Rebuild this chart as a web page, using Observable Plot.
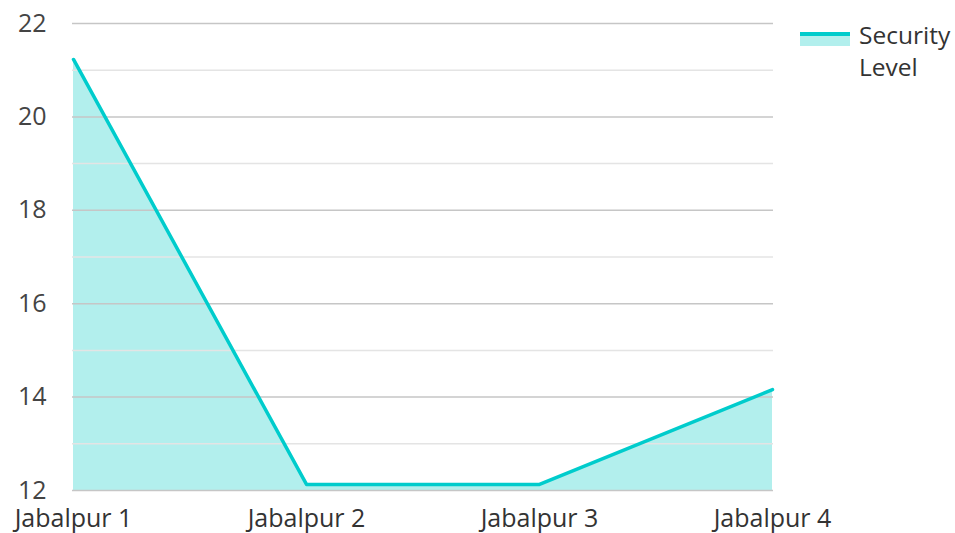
<!DOCTYPE html>
<html>
<head>
<meta charset="utf-8">
<script src="https://cdn.jsdelivr.net/npm/d3@7"></script>
<script src="https://cdn.jsdelivr.net/npm/@observablehq/plot@0.6"></script>
<style>
  html, body { margin: 0; padding: 0; background: #fff; }
  #wrap { position: relative; width: 955px; height: 533px; font-family: "Open Sans", sans-serif; }
  #chart svg { overflow: visible; }
  #legend { position: absolute; left: 800px; top: 19px; display: flex; align-items: flex-start; font-size: 24.5px; color: #333; line-height: 32px; }
  #legend .sw { width: 50px; height: 14px; margin-top: 13px; margin-right: 9px; background: #b2efed; border-top: 4px solid #00cccc; box-sizing: border-box; }
</style>
</head>
<body>
<div id="wrap">
  <div id="chart"></div>
  <div id="legend"><div class="sw"></div><div>Security<br>Level</div></div>
</div>
<script>
const categories = ["Jabalpur 1", "Jabalpur 2", "Jabalpur 3", "Jabalpur 4"];
const securityLevel = [21.23, 12.13, 12.13, 14.16];
const majorTicks = [12, 14, 16, 18, 20, 22];
const minorTicks = [13, 15, 17, 19, 21];

const data = categories.map((c, i) => ({category: c, value: securityLevel[i]}));

const chart = Plot.plot({
  width: 955,
  height: 533,
  marginLeft: 72,
  marginRight: 182,
  marginTop: 23,
  marginBottom: 43,
  style: {fontFamily: "Open Sans, sans-serif", color: "#444", background: "transparent", overflow: "visible"},
  x: {type: "point", domain: categories, padding: 0, label: null},
  y: {domain: [12, 22], label: null},
  marks: [
    Plot.areaY(data, {x: "category", y1: 12, y2: "value", fill: "#b2efed"}),
    Plot.ruleY(minorTicks, {stroke: "#e4e4e4", strokeWidth: 1.5}),
    Plot.ruleY(majorTicks, {stroke: "#c6c6c6", strokeWidth: 1.5}),
    Plot.lineY(data, {x: "category", y: "value", stroke: "#00cccc", strokeWidth: 3.5}),
    Plot.axisY({ticks: majorTicks, tickSize: 0, tickPadding: 26, fontSize: 25, fill: "#444"}),
    Plot.axisX({tickSize: 0, tickPadding: 19, fontSize: 25, fill: "#333"})
  ]
});
document.getElementById("chart").appendChild(chart);
</script>
</body>
</html>
